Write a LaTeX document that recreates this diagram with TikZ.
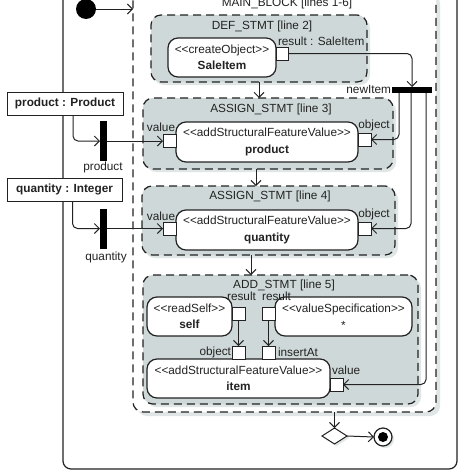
\documentclass[tikz,border=0pt]{standalone}
\usepackage{fontspec}
\setmainfont{Liberation Sans}
\usetikzlibrary{arrows.meta,shadows,shapes.geometric}
\definecolor{grpfill}{HTML}{CFD8D8}
\definecolor{shfill}{HTML}{DFE6E5}
\definecolor{linec}{HTML}{222222}
\newcommand\dlt{<\kern0pt<}
\newcommand\dgt{>\kern0pt>}
\begin{document}
\begin{tikzpicture}[x=1pt,y=-1pt,
  every node/.style={font=\fontsize{11.8}{16.5}\selectfont, inner sep=0pt, outer sep=0pt, text=linec},
  box/.style={rectangle, anchor=north west},
  grp/.style={box, draw=linec, line width=1.2pt, dash pattern=on 8pt off 5pt, fill=grpfill, rounded corners=10pt,
    general shadow={fill=shfill, shadow xshift=3pt, shadow yshift=-3pt}},
  mblock/.style={box, draw=linec, line width=1.2pt, dash pattern=on 8pt off 5pt, fill=white, rounded corners=10pt,
    general shadow={fill=shfill, shadow xshift=4pt, shadow yshift=-4pt}},
  act/.style={box, draw=linec, line width=1.2pt, fill=white, rounded corners=10pt, align=center},
  pin/.style={rectangle, draw=linec, line width=1pt, fill=white, minimum width=13pt, minimum height=13pt},
  bar/.style={rectangle, fill=black, draw=none},
  obj/.style={box, draw=linec, line width=1pt, fill=white},
  lbl/.style={},
  arr/.style={draw=linec, line width=1pt, -{Straight Barb[length=5pt,width=10pt]}, rounded corners=5pt},
]
\useasboundingbox (0,0) rectangle (474,474);
\clip (0,0) rectangle (474,474);
\fill[white] (0,0) rectangle (474,474);

% outer activity frame
\node[box, draw=linec, line width=1.2pt, rounded corners=8pt, minimum width=394pt, minimum height=489pt] (frame) at (63,-20) {};

% main block
\node[mblock, minimum width=303pt, minimum height=422pt] (mb) at (133,-10) {};
\node[anchor=base] (mbt) at (287,6.5) {MAIN\_BLOCK [lines 1-6]};

% initial node
\node[circle, fill=black, minimum size=20pt] (init) at (86,9) {};

% DEF_STMT
\node[grp, minimum width=216pt, minimum height=67pt] (def) at (151,15) {};
\node (deft) at (262,26) {DEF\_STMT [line 2]};
\node[act, minimum width=108pt, minimum height=39pt] (co) at (168,38) {\dlt createObject\dgt\\\textbf{SaleItem}};
\node[pin, minimum width=12pt] (cop) at (282,53.5) {};
\node[anchor=west] (corl) at (278,41) {result : SaleItem};

% fork
\node[bar, minimum width=40pt, minimum height=6pt] (fork) at (412,90) {};
\node[anchor=east] (forkl) at (391,89) {newItem};

% ASSIGN_STMT line 3
\node[grp, minimum width=250pt, minimum height=71pt] (a3) at (143,98) {};
\node (a3t) at (271,109) {ASSIGN\_STMT [line 3]};
\node[act, minimum width=182pt, minimum height=40pt] (a3a) at (176,122) {\dlt addStructuralFeatureValue\dgt\\\textbf{product}};
\node[pin] (a3v) at (169.5,140.5) {};
\node (a3vl) at (161,127) {value};
\node[pin] (a3o) at (364.5,139.5) {};
\node (a3ol) at (374,125) {object};

% ASSIGN_STMT line 4
\node[grp, minimum width=253pt, minimum height=69pt] (a4) at (142,186) {};
\node (a4t) at (270,196) {ASSIGN\_STMT [line 4]};
\node[act, minimum width=182pt, minimum height=40pt] (a4a) at (176,210) {\dlt addStructuralFeatureValue\dgt\\\textbf{quantity}};
\node[pin] (a4v) at (169.5,228.5) {};
\node (a4vl) at (161,216) {value};
\node[pin] (a4o) at (364.5,228.5) {};
\node (a4ol) at (374,214) {object};

% ADD_STMT line 5
\node[grp, minimum width=275pt, minimum height=129pt] (add) at (143,275) {};
\node (addt) at (284,285) {ADD\_STMT [line 5]};
\node[act, minimum width=85pt, minimum height=39pt] (rs) at (147,297) {\dlt readSelf\dgt\\\textbf{self}};
\node[pin] (rsp) at (238.5,313.5) {};
\node (rsl) at (241.5,296) {result};
\node[act, minimum width=137pt, minimum height=39pt] (vs) at (275,297) {\dlt valueSpecification\dgt\\*};
\node[pin] (vsp) at (268.5,313.5) {};
\node (vsl) at (276.5,296) {result};
\node[act, minimum width=183pt, minimum height=39pt] (it) at (147,359) {\dlt addStructuralFeatureValue\dgt\\\textbf{item}};
\node[pin] (objp) at (238.5,352.5) {};
\node[anchor=east] (objl) at (231,352) {object};
\node[pin] (insp) at (268.5,352.5) {};
\node[anchor=west] (insl) at (278,352) {insertAt};
\node[pin] (itv) at (336.5,384.5) {};
\node[anchor=west] (itvl) at (332,370) {value};

% decision / final
\node[diamond, draw=linec, line width=1pt, fill=white, minimum width=25pt, minimum height=16pt,
  general shadow={fill=shfill, shadow xshift=2pt, shadow yshift=-2pt}] (dec) at (334.5,436) {};
\node[circle, draw=linec, line width=1.2pt, fill=white, minimum size=18pt,
  general shadow={fill=shfill, shadow xshift=2pt, shadow yshift=-2pt},
  path picture={\fill[black] (path picture bounding box.center) circle (5pt);}] (fin) at (383,437) {};

% input objects and pins
\node[obj, minimum width=116pt, minimum height=23pt] (prod) at (7,92) {\textbf{product : Product}};
\node[bar, minimum width=7pt, minimum height=40pt] (pbar) at (103.5,141) {};
\node (pbl) at (103,167) {product};
\node[obj, minimum width=115pt, minimum height=23pt] (qty) at (7,178) {\textbf{quantity : Integer}};
\node[bar, minimum width=7pt, minimum height=40pt] (qbar) at (103.5,228.5) {};
\node (qbl) at (106,257) {quantity};

% connectors
\draw[arr] (init.east) -- (init.east -| mb.west);
\draw[arr] (def.south) -- (def.south |- a3.north);
\draw[arr] ([xshift=-12pt]a3.south) -- ([xshift=-12pt]a3.south |- a4.north);
\draw[arr] ([xshift=-17.5pt]a4.south) -- ([xshift=-17.5pt]a4.south |- add.north);
\draw[arr] (cop.east) -| (fork.north);
\draw[arr] ([xshift=-13pt]fork.south) |- (a3o.east);
\draw[arr] ([xshift=-1pt]fork.south) |- (a4o.east);
\draw[arr] ([xshift=14pt]fork.south) |- (itv.east);
\draw[arr] ([xshift=8pt]prod.south) |- (pbar.west);
\draw[arr] (pbar.east) -- (pbar.east -| a3v.west);
\draw[arr] ([xshift=8pt]qty.south) |- (qbar.west);
\draw[arr] (qbar.east) -- (qbar.east -| a4v.west);
\draw[arr] (rsp.south) -- (objp.north);
\draw[arr] (vsp.south) -- (insp.north);
\draw[arr] (dec.north |- mb.south) -- (dec.north);
\draw[arr] (dec.east) -- (fin.west);
\end{tikzpicture}
\end{document}
